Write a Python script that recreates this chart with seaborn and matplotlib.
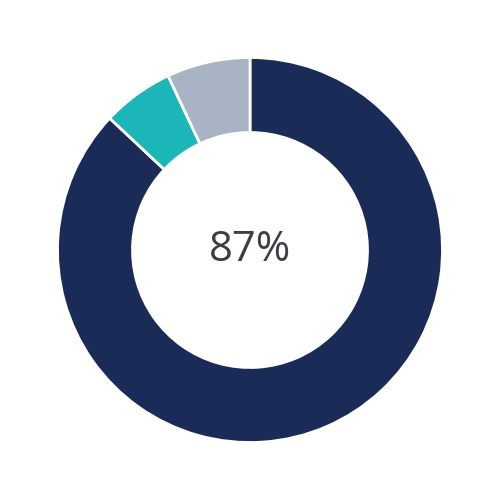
import matplotlib
matplotlib.use("Agg")
import matplotlib.pyplot as plt
import seaborn as sns

sns.set_theme(style="white")

labels = ["Main", "Teal", "Gray"]
values = [87, 6, 7]
colors = ["#1b2b58", "#1cb5b8", "#a8b3c3"]
center_text = "87%"

fig, ax = plt.subplots(figsize=(5, 5), dpi=100)
fig.subplots_adjust(left=0, right=1, top=1, bottom=0)
ax.pie(values, colors=colors, startangle=90, counterclock=False,
       radius=0.77, wedgeprops=dict(width=0.30, edgecolor="white", linewidth=2))
ax.text(0, 0, center_text, ha="center", va="center", fontsize=30,
        color="#3a3f47", family=["Open Sans", "DejaVu Sans"])
ax.set_xlim(-1, 1)
ax.set_ylim(-1, 1)
ax.set_aspect("equal")
ax.axis("off")
fig.savefig("out.png", dpi=100, facecolor="white")
